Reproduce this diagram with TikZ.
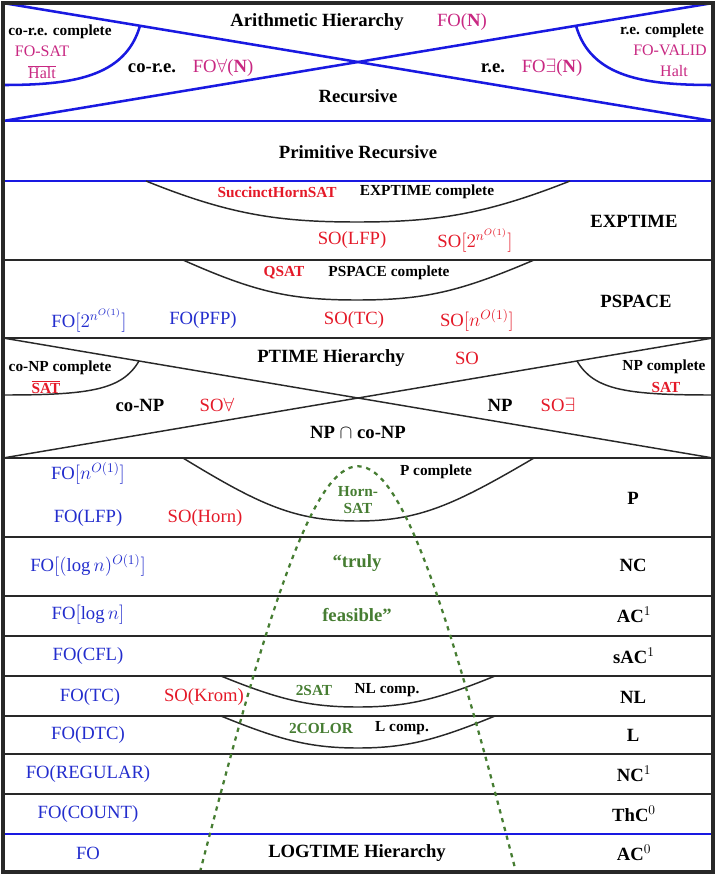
\documentclass[tikz,border=0pt]{standalone}
\usepackage{fontspec}
\setmainfont{Liberation Serif}
\definecolor{lblue}{RGB}{25,25,225}
\definecolor{tblue}{RGB}{35,45,205}
\definecolor{tred}{RGB}{228,25,40}
\definecolor{tmag}{RGB}{200,40,130}
\definecolor{tgreen}{RGB}{70,125,50}
\definecolor{lgray}{RGB}{40,40,40}
\begin{document}
\begin{tikzpicture}[x=0.75pt,y=-0.75pt,
  bl/.style={draw=lblue,line width=1.9pt},
  bk/.style={draw=lgray,line width=1.1pt},
  frame/.style={draw=lgray,line width=2.3pt},
  big/.style={inner sep=0pt,font=\fontsize{14}{16}\selectfont},
  bigb/.style={inner sep=0pt,font=\fontsize{14}{16}\selectfont\bfseries},
  mid/.style={inner sep=0pt,font=\fontsize{12}{14}\selectfont},
  smb/.style={inner sep=0pt,font=\fontsize{11.5}{13}\selectfont\bfseries},
  grn/.style={text=tgreen},
  red/.style={text=tred},
  blu/.style={text=tblue},
  mag/.style={text=tmag},
  feas/.style={draw=tgreen,line width=1.7pt,dash pattern=on 3.2pt off 3.6pt}
]
\useasboundingbox (0,0) rectangle (716,875);
% ---------- top region ----------
\draw[bl] (3,3) -- (713,121);
\draw[bl] (3,121) -- (713,3);
\draw[bl] (140,25.8) .. controls (125,78) and (70,85) .. (3,85);
\draw[bl] (576,25.8) .. controls (591,78) and (646,85) .. (713,85);
\draw[bl] (3,121) -- (713,121);
\draw[bl] (3,181) -- (713,181);
% ---------- row separators ----------
\draw[bk] (3,260) -- (713,260);
\draw[bk] (3,338) -- (713,338);
\draw[bk] (3,338) -- (713,458);
\draw[bk] (3,458) -- (713,338);
\draw[bk] (139,361) .. controls (122,390) and (90,395) .. (3,395);
\draw[bk] (577,361) .. controls (594,390) and (626,395) .. (713,395);
\draw[bk] (3,458) -- (713,458);
\draw[bk] (3,537) -- (713,537);
\draw[bk] (3,596) -- (713,596);
\draw[bk] (3,636) -- (713,636);
\draw[bk] (3,676) -- (713,676);
\draw[bk] (3,716) -- (713,716);
\draw[bk] (3,754) -- (713,754);
\draw[bk] (3,794) -- (713,794);
\draw[bl] (3,834) -- (713,834);
% ---------- complete-problem curves ----------
\draw[bk] (146,181) .. controls (230,215) and (280,222) .. (357,222)
                    .. controls (434,222) and (484,215) .. (570,181);
\draw[bk] (183,260) .. controls (255,292) and (290,300) .. (357,300)
                    .. controls (424,300) and (459,292) .. (534,260);
\draw[bk] (183,458) .. controls (260,505) and (295,521) .. (357,521)
                    .. controls (419,521) and (454,505) .. (534,458);
\draw[bk] (221,676) .. controls (280,700) and (310,707) .. (358,707)
                    .. controls (406,707) and (436,700) .. (495,676);
\draw[bk] (221,716) .. controls (280,740) and (310,748) .. (358,748)
                    .. controls (406,748) and (436,740) .. (495,716);
% ---------- truly feasible ----------
\begin{scope}
\clip (3,3) rectangle (713,872);
\draw[feas] (200,872) .. controls (340,331) and (376,331) .. (516,872);
\end{scope}
% ---------- frame ----------
\draw[frame] (3,3) rectangle (713,872);
% ---------- texts: top ----------
\node[bigb] (arith) at (317,22) {Arithmetic Hierarchy};
\node[big,mag] (fon) at (462,22) {FO(\textbf{N})};
\node[smb] (corecomp) at (60,32) {co-r.e. complete};
\node[mid,mag] (fosat) at (42,51) {FO-SAT};
\node[mid,mag] (halta) at (42,72) {$\overline{\mbox{Halt}}$};
\node[bigb] (core) at (152,68) {co-r.e.};
\node[big,mag] (foall) at (223,68) {FO$\forall$(\textbf{N})};
\node[bigb] (re) at (493,68) {r.e.};
\node[big,mag] (foex) at (552,68) {FO$\exists$(\textbf{N})};
\node[smb] (recomp) at (662,31) {r.e. complete};
\node[mid,mag] (foval) at (670,50) {FO-VALID};
\node[mid,mag] (haltb) at (674,71) {Halt};
\node[bigb] (recursive) at (358,96) {Recursive};
\node[bigb] (primrec) at (358,152) {Primitive Recursive};
% ---------- EXPTIME ----------
\node[smb,red] (shs) at (277,192) {SuccinctHornSAT};
\node[smb] (expc) at (427,192) {EXPTIME complete};
\node[big,red] (solfp) at (352,240) {SO(LFP)};
\node[big,red] (soexp) at (475,240) {SO$[2^{n^{O(1)}}]$};
\node[bigb] (exptime) at (634,221) {EXPTIME};
% ---------- PSPACE ----------
\node[smb,red] (qsat) at (284,273) {QSAT};
\node[smb] (psc) at (389,273) {PSPACE complete};
\node[bigb] (pspace) at (636,301) {PSPACE};
\node[big,blu] (foexp) at (89,320) {FO$[2^{n^{O(1)}}]$};
\node[big,blu] (fopfp) at (203,320) {FO(PFP)};
\node[big,red] (sotc) at (354,320) {SO(TC)};
\node[big,red] (sopoly) at (477,320) {SO$[n^{O(1)}]$};
% ---------- PH ----------
\node[smb] (conpc) at (60,368) {co-NP complete};
\node[smb,red] (satbar) at (46,387) {$\overline{\mbox{\textbf{SAT}}}$};
\node[bigb] (ph) at (331,358) {PTIME Hierarchy};
\node[big,red] (so) at (467,358) {SO};
\node[smb] (npc) at (664,367) {NP complete};
\node[smb,red] (sat) at (666,387) {SAT};
\node[bigb] (conp) at (140,405) {co-NP};
\node[big,red] (soall) at (217,405) {SO$\forall$};
\node[bigb] (np) at (500,405) {NP};
\node[big,red] (soex) at (558,405) {SO$\exists$};
\node[bigb] (npconp) at (358,432) {NP $\cap$ co-NP};
% ---------- P ----------
\node[big,blu] (fopoly) at (88,473) {FO$[n^{O(1)}]$};
\node[big,blu] (folfp) at (88,518) {FO(LFP)};
\node[big,red] (sohorn) at (205,518) {SO(Horn)};
\node[smb] (pc) at (436,472) {P complete};
\node[smb,grn] (horn) at (358,492) {Horn-};
\node[smb,grn] (hsat) at (358,508) {SAT};
\node[bigb] (p) at (633,498) {P};
% ---------- NC .. AC0 ----------
\node[big,blu] (fopolylog) at (88,565) {FO$[(\log n)^{O(1)}]$};
\node[bigb,grn] (truly) at (357,563) {“truly};
\node[bigb] (nc) at (633,565) {NC};
\node[big,blu] (folog) at (88,615) {FO$[\log n]$};
\node[bigb,grn] (feasible) at (357,615) {feasible”};
\node[bigb] (ac1) at (634,615) {AC$^1$};
\node[big,blu] (focfl) at (88,656) {FO(CFL)};
\node[bigb] (sac1) at (634,656) {sAC$^1$};
\node[big,blu] (fotc) at (90,697) {FO(TC)};
\node[big,red] (sokrom) at (204,697) {SO(Krom)};
\node[smb,grn] (twosat) at (314,690) {2SAT};
\node[smb] (nlc) at (387,690) {NL comp.};
\node[bigb] (nl) at (633,697) {NL};
\node[big,blu] (fodtc) at (88,735) {FO(DTC)};
\node[smb,grn] (twocol) at (321,728) {2COLOR};
\node[smb] (lc) at (402,728) {L comp.};
\node[bigb] (l) at (633,735) {L};
\node[big,blu] (foreg) at (88,774) {FO(REGULAR)};
\node[bigb] (nc1) at (634,774) {NC$^1$};
\node[big,blu] (focount) at (88,814) {FO(COUNT)};
\node[bigb] (thc0) at (634,814) {ThC$^0$};
\node[big,blu] (fo) at (88,853) {FO};
\node[bigb] (logtime) at (357,853) {LOGTIME Hierarchy};
\node[bigb] (ac0) at (634,853) {AC$^0$};
\end{tikzpicture}
\end{document}
